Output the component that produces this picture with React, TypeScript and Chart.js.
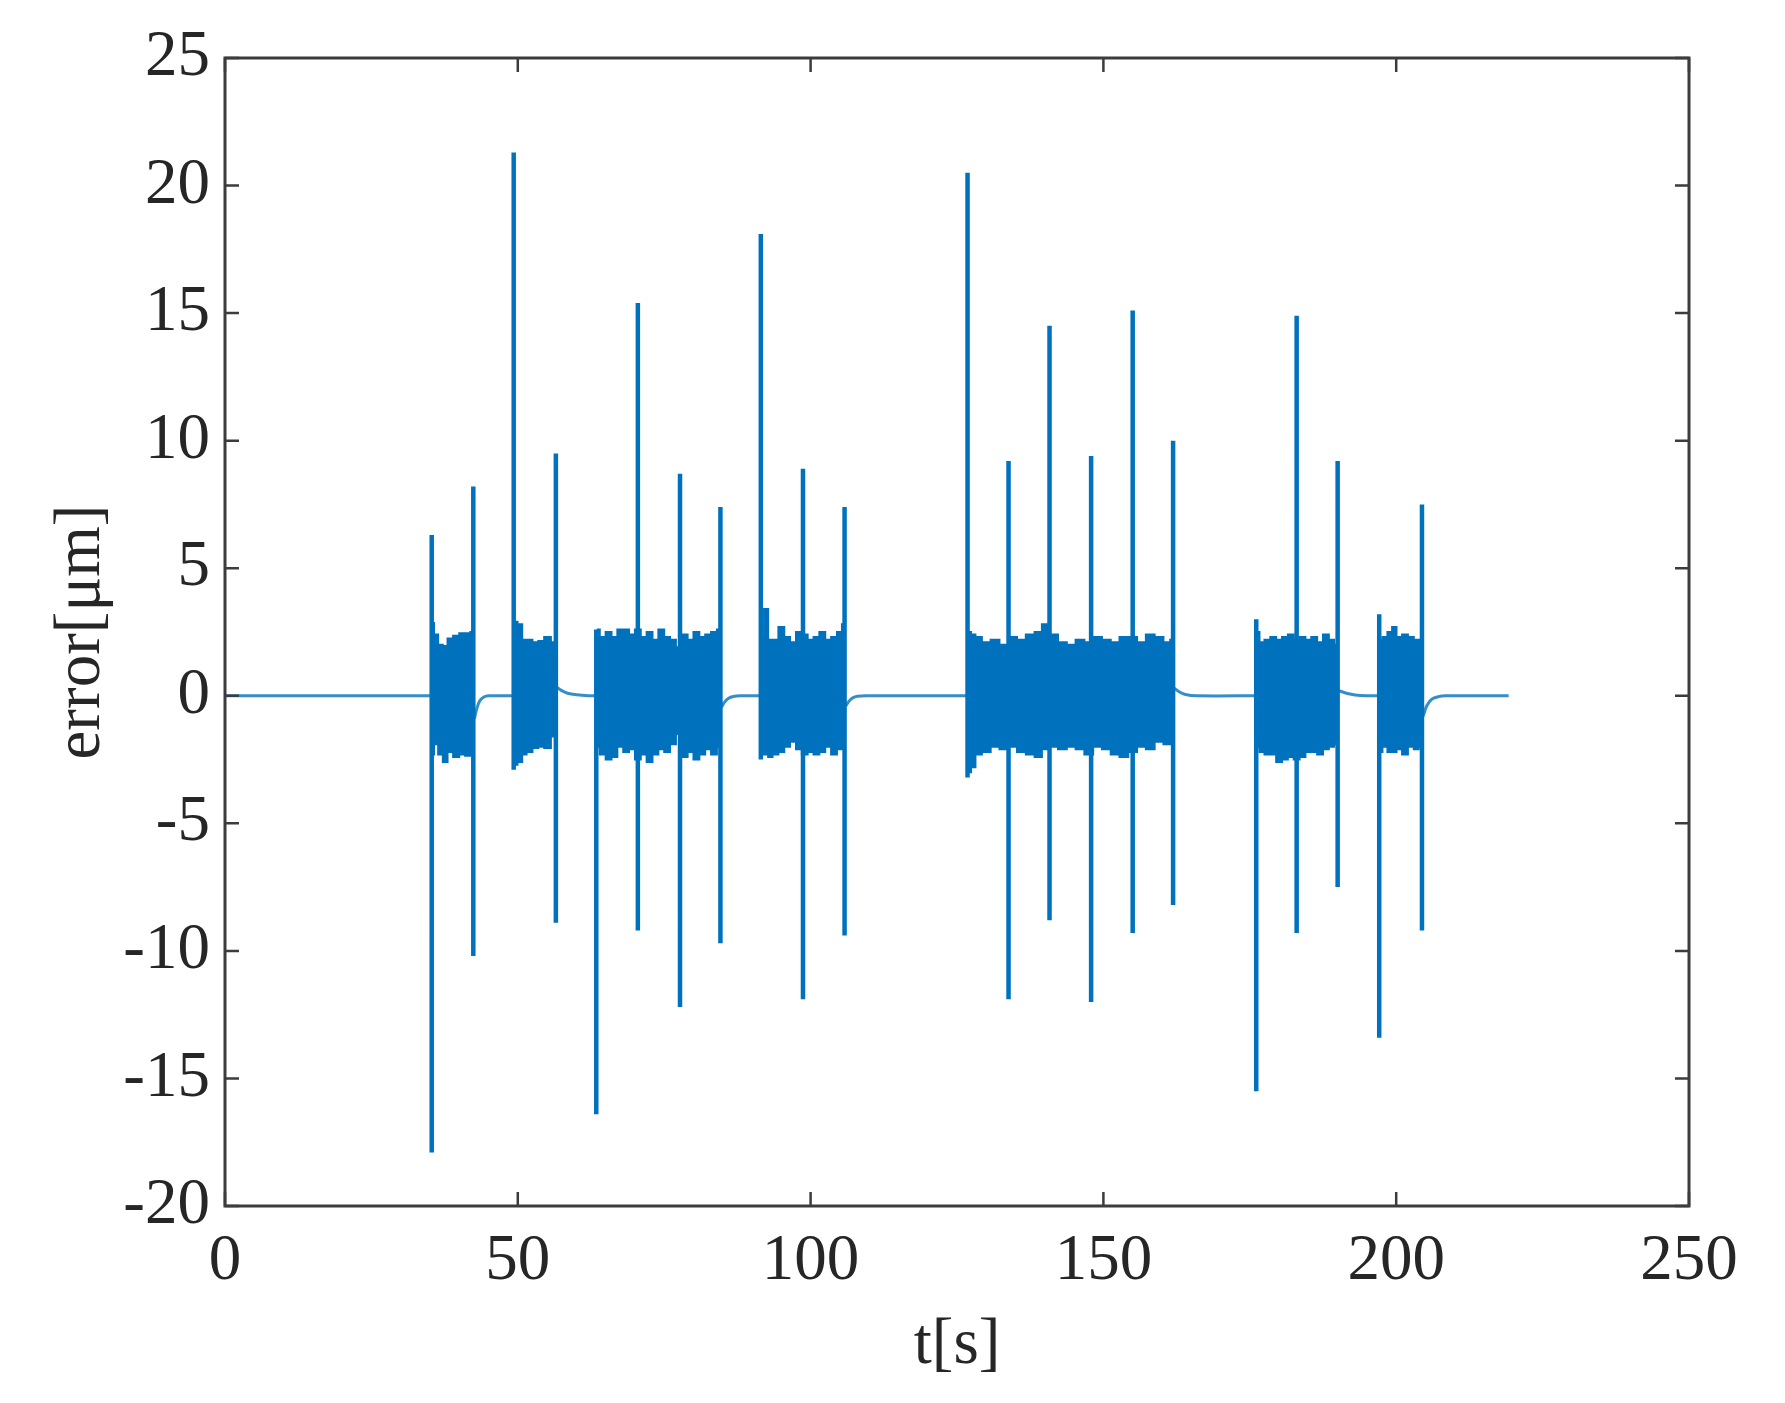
import React, { useEffect, useRef } from "react";
import { Chart, registerables } from "chart.js";

Chart.register(...registerables);

// ---- data ----
const X_TICKS = [0, 50, 100, 150, 200, 250];
const Y_TICKS = [-20, -15, -10, -5, 0, 5, 10, 15, 20, 25];

// impulse spikes at each step change
const SPIKE_T = [35.3, 42.4, 49.3, 56.5, 63.4, 70.5, 77.7, 84.6, 91.5, 98.7, 105.8, 126.8, 133.8, 140.8, 147.9, 155.0, 161.9, 176.1, 183.0, 190.0, 197.1, 204.4];
const SPIKE_HI = [6.3, 8.2, 21.3, 9.5, 2.6, 15.4, 8.7, 7.4, 18.1, 8.9, 7.4, 20.5, 9.2, 14.5, 9.4, 15.1, 10.0, 3.0, 14.9, 9.2, 3.2, 7.5];
const SPIKE_LO = [-17.9, -10.2, -2.9, -8.9, -16.4, -9.2, -12.2, -9.7, -2.5, -11.9, -9.4, -3.2, -11.9, -8.8, -12.0, -9.3, -8.2, -15.5, -9.3, -7.5, -13.4, -9.2];

// quiet trace between bursts (null = break)
const QUIET_T = [0, 35.3, null, 42.6, 43.0, 43.5, 44.2, 45.0, 49.3, null, 56.6, 57.5, 58.5, 60.0, 62.0, 63.4, null, 84.8, 85.3, 86.0, 86.8, 88.0, 91.5, null, 106.0, 106.6, 107.2, 108.0, 109.5, 126.8, null, 162.1, 163.0, 164.0, 166.0, 176.1, null, 190.2, 191.5, 193.0, 195.0, 197.1, null, 204.6, 205.2, 206.0, 207.0, 208.5, 219.2];
const QUIET_Y = [0, 0, null, -0.9, -0.5, -0.2, -0.05, 0, 0, null, 0.35, 0.2, 0.1, 0.04, 0, 0, null, -0.45, -0.25, -0.1, -0.03, 0, 0, null, -0.4, -0.2, -0.08, -0.02, 0, 0, null, 0.3, 0.15, 0.05, 0, 0, null, 0.2, 0.1, 0.03, 0, 0, null, -0.8, -0.4, -0.15, -0.05, 0, 0];

// burst envelopes (null = next burst)
const ENV_T = [
  35.4, 36.0, 36.8, 37.6, 38.4, 39.5, 40.5, 41.5, 42.3, null,
  49.4, 50.5, 51.0, 52.0, 53.0, 54.0, 55.0, 56.3, null,
  63.5, 64.5, 65.5, 66.5, 67.5, 68.5, 69.5, 70.5, 71.5, 72.5, 73.5, 74.5, 75.5, 76.5, 77.5, 78.5, 79.5, 80.5, 81.5, 82.5, 83.5, 84.5, null,
  91.6, 92.5, 93.0, 94.0, 95.0, 96.0, 97.0, 98.0, 99.0, 100.0, 101.0, 102.0, 103.0, 104.0, 105.0, 105.7, null,
  127.0, 127.8, 128.5, 130.0, 131.5, 133.0, 134.5, 136.0, 137.5, 139.0, 140.0, 141.5, 143.0, 144.5, 146.0, 147.5, 149.0, 150.5, 152.0, 153.5, 155.0, 156.5, 158.0, 159.5, 161.0, 161.8, null,
  176.3, 177.0, 178.0, 179.0, 180.0, 181.0, 182.0, 183.0, 184.0, 185.0, 186.0, 187.0, 188.0, 189.0, 189.8, null,
  197.3, 198.0, 199.0, 199.6, 200.5, 201.5, 202.5, 203.5, 204.2,
];
const ENV_UP = [
  2.85, 2.4, 2.0, 1.95, 2.25, 2.35, 2.45, 2.45, 2.5, null,
  2.9, 2.8, 2.2, 2.2, 2.1, 2.15, 2.3, 2.1, null,
  2.6, 2.3, 2.5, 2.3, 2.6, 2.6, 2.4, 2.6, 2.3, 2.5, 2.2, 2.6, 2.3, 2.2, 1.9, 2.4, 2.2, 2.5, 2.3, 2.4, 2.5, 2.6, null,
  2.3, 3.4, 2.2, 2.2, 2.7, 2.3, 2.1, 2.5, 2.4, 2.2, 2.3, 2.5, 2.2, 2.3, 2.5, 2.8, null,
  2.5, 2.4, 2.3, 2.1, 2.2, 2.0, 2.3, 2.2, 2.4, 2.5, 2.8, 2.4, 2.1, 2.0, 2.2, 2.1, 2.3, 2.2, 2.1, 2.3, 2.3, 2.1, 2.4, 2.3, 2.1, 2.2, null,
  2.5, 2.1, 2.2, 2.3, 2.2, 2.3, 2.4, 2.2, 2.3, 2.2, 2.3, 2.1, 2.4, 2.2, 2.0, null,
  2.2, 2.3, 2.5, 2.7, 2.3, 2.4, 2.3, 2.2, 2.2,
];
const ENV_LO = [
  -2.3, -1.9, -2.3, -2.6, -2.2, -2.4, -2.3, -2.35, -2.2, null,
  -2.7, -2.6, -2.3, -2.2, -2.05, -2.0, -2.05, -1.6, null,
  -2.0, -2.3, -2.5, -2.4, -2.0, -2.2, -2.1, -2.5, -2.3, -2.6, -2.3, -2.1, -2.2, -1.9, -1.5, -2.4, -2.2, -2.5, -2.3, -2.1, -2.3, -2.0, null,
  -2.3, -2.3, -2.4, -2.3, -2.2, -2.0, -1.8, -2.1, -2.3, -2.2, -2.3, -2.2, -2.0, -2.3, -2.1, -2.0, null,
  -3.0, -2.8, -2.3, -2.2, -2.0, -2.1, -2.0, -2.2, -2.3, -2.4, -2.1, -2.0, -2.1, -2.0, -2.1, -2.3, -2.0, -2.1, -2.3, -2.4, -2.2, -2.0, -2.1, -1.8, -1.9, -1.9, null,
  -2.0, -2.2, -2.3, -2.3, -2.6, -2.5, -2.4, -2.5, -2.4, -2.2, -2.2, -2.3, -2.1, -2.0, -1.9, null,
  -2.2, -2.0, -2.2, -2.2, -2.1, -2.3, -2.0, -2.1, -2.0,
];

const X_MIN = 0, X_MAX = 250, Y_MIN = -20, Y_MAX = 25;

const BLUE = "#0072BD";
const BLUE_SOFT = "rgba(0,114,189,0.8)";
const AXIS = "#3c3c3c";
const TEXT = "#262626";
const FONT = "'Liberation Serif', 'Times New Roman', serif";

type Pt = { x: number; y: number | null };

function toSegments(ts: (number | null)[], ys: (number | null)[]): Pt[][] {
  const out: Pt[][] = [];
  let cur: Pt[] = [];
  ts.forEach((t, i) => {
    if (t === null || ys[i] === null) {
      if (cur.length) out.push(cur);
      cur = [];
    } else {
      cur.push({ x: t, y: ys[i] as number });
    }
  });
  if (cur.length) out.push(cur);
  return out;
}

function withGaps(ts: (number | null)[], ys: (number | null)[]): Pt[] {
  return ts.map((t, i) => (t === null ? { x: NaN, y: null } : { x: t, y: ys[i] }));
}

const boxPlugin = {
  id: "matlabBox",
  afterDraw(chart: any) {
    const { ctx, chartArea, scales } = chart;
    const { left, right, top, bottom } = chartArea;
    const x = scales.x;
    const y = scales.y;
    const tl = 14;
    ctx.save();
    ctx.strokeStyle = AXIS;
    ctx.lineWidth = 2.5;
    ctx.beginPath();
    X_TICKS.forEach((v) => {
      const px = x.getPixelForValue(v);
      ctx.moveTo(px, bottom);
      ctx.lineTo(px, bottom - tl);
      ctx.moveTo(px, top);
      ctx.lineTo(px, top + tl);
    });
    Y_TICKS.forEach((v) => {
      const py = y.getPixelForValue(v);
      ctx.moveTo(left, py);
      ctx.lineTo(left + tl, py);
      ctx.moveTo(right, py);
      ctx.lineTo(right - tl, py);
    });
    ctx.stroke();
    ctx.lineWidth = 3;
    ctx.strokeRect(left, top, right - left, bottom - top);
    ctx.restore();
  },
};

export default function App() {
  const ref = useRef<HTMLCanvasElement | null>(null);

  useEffect(() => {
    document.body.style.margin = "0";
    const canvas = ref.current;
    if (!canvas) return;

    const upSeg = toSegments(ENV_T, ENV_UP);
    const loSeg = toSegments(ENV_T, ENV_LO);

    const datasets: any[] = [];

    const spikeData: Pt[] = [];
    SPIKE_T.forEach((t, i) => {
      spikeData.push({ x: t, y: SPIKE_HI[i] });
      spikeData.push({ x: t, y: SPIKE_LO[i] });
      spikeData.push({ x: t, y: null });
    });
    datasets.push({
      label: "spikes",
      data: spikeData,
      borderColor: BLUE,
      borderWidth: 4.5,
      borderCapStyle: "butt",
      pointRadius: 0,
      fill: false,
      spanGaps: false,
      order: 0,
    });

    datasets.push({
      label: "quiet",
      data: withGaps(QUIET_T, QUIET_Y),
      borderColor: BLUE_SOFT,
      borderWidth: 3,
      pointRadius: 0,
      fill: false,
      spanGaps: false,
      tension: 0.3,
      order: 1,
    });

    upSeg.forEach((seg, i) => {
      datasets.push({
        label: "up" + i,
        data: seg,
        borderColor: BLUE,
        borderWidth: 2,
        pointRadius: 0,
        stepped: "middle",
        fill: false,
        order: 2,
      });
      datasets.push({
        label: "lo" + i,
        data: loSeg[i],
        borderColor: BLUE,
        backgroundColor: BLUE,
        borderWidth: 2,
        pointRadius: 0,
        stepped: "middle",
        fill: "-1",
        order: 2,
      });
    });

    const chart = new Chart(canvas, {
      type: "line",
      data: { datasets },
      options: {
        animation: false,
        responsive: false,
        devicePixelRatio: 1,
        layout: { padding: { top: 58, right: 96, bottom: 0, left: 0 } },
        plugins: {
          legend: { display: false },
          tooltip: { enabled: false },
          filler: { propagate: false },
        },
        scales: {
          x: {
            type: "linear",
            min: X_MIN,
            max: X_MAX,
            grid: { display: false, drawTicks: false },
            border: { display: false },
            afterBuildTicks: (s: any) => {
              s.ticks = X_TICKS.map((v) => ({ value: v }));
            },
            afterFit: (s: any) => {
              s.height = 197;
            },
            ticks: {
              color: TEXT,
              padding: 17,
              maxRotation: 0,
              font: { family: FONT, size: 65 },
              callback: (v: any) => String(v),
            },
            title: {
              display: true,
              text: "t[s]",
              color: TEXT,
              font: { family: FONT, size: 65 },
              padding: { top: 0, bottom: 18 },
            },
          },
          y: {
            type: "linear",
            min: Y_MIN,
            max: Y_MAX,
            grid: { display: false, drawTicks: false },
            border: { display: false },
            afterBuildTicks: (s: any) => {
              s.ticks = Y_TICKS.map((v) => ({ value: v }));
            },
            afterFit: (s: any) => {
              s.width = 225;
            },
            ticks: {
              color: TEXT,
              padding: 15,
              font: { family: FONT, size: 65 },
              callback: (v: any) => String(v),
            },
            title: {
              display: true,
              text: "error[μm]",
              color: TEXT,
              font: { family: FONT, size: 65 },
              padding: { top: 43, bottom: 0 },
            },
          },
        },
      },
      plugins: [boxPlugin],
    });

    return () => chart.destroy();
  }, []);

  return (
    <div style={{ width: 1785, height: 1403 }}>
      <canvas ref={ref} width={1785} height={1403} style={{ display: "block", width: 1785, height: 1403 }} />
    </div>
  );
}
